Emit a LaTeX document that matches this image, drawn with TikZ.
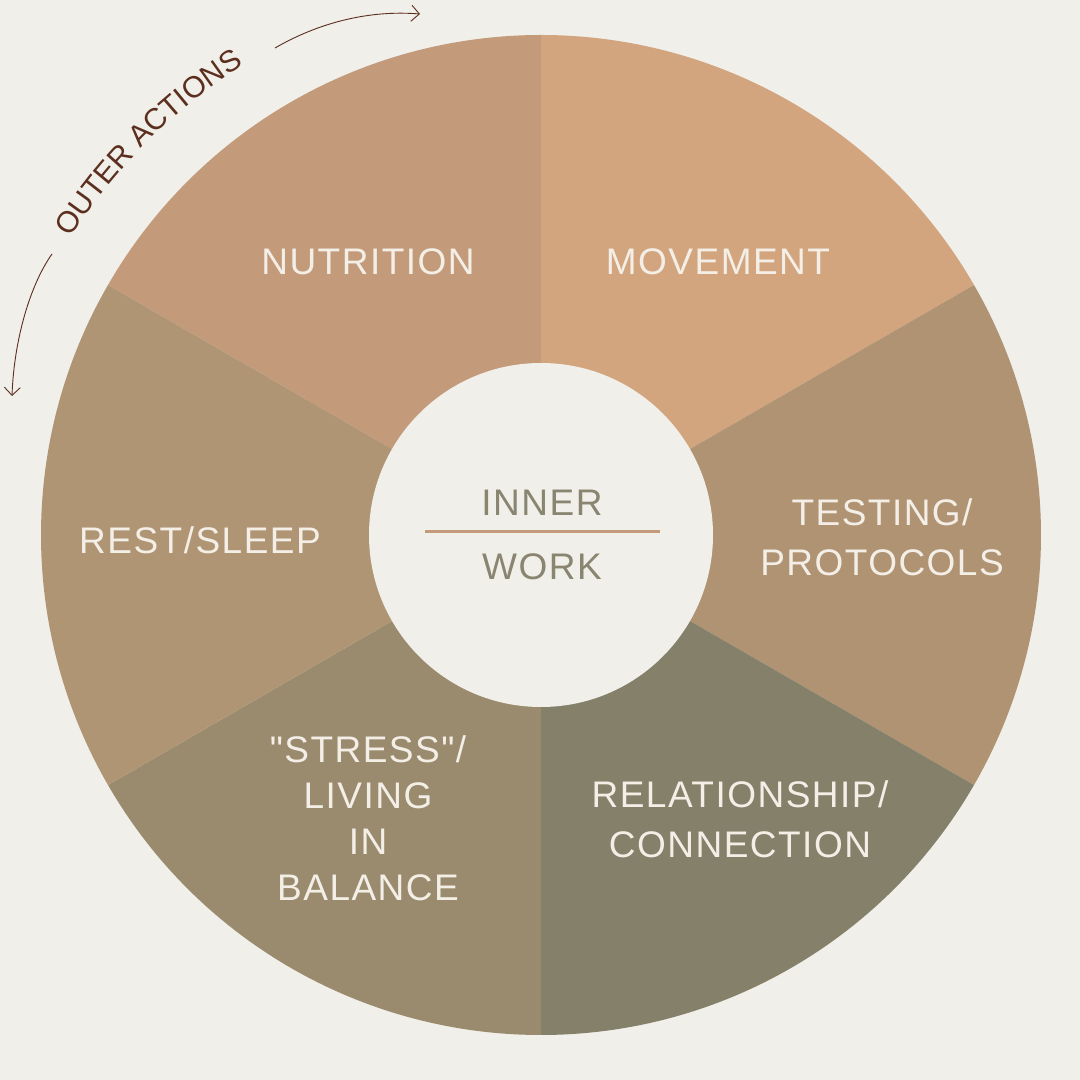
\documentclass[tikz,border=0pt]{standalone}
\usepackage{fontspec}
\setmainfont{Liberation Sans}[Ligatures=TeXOff]
\usetikzlibrary{decorations.text,arrows.meta}
\definecolor{bg}{HTML}{F0EFEA}
\definecolor{cNut}{HTML}{C39B7B}
\definecolor{cMov}{HTML}{D3A57F}
\definecolor{cTest}{HTML}{AF9373}
\definecolor{cRel}{HTML}{85806A}
\definecolor{cStr}{HTML}{9A8B6E}
\definecolor{cRest}{HTML}{B09575}
\definecolor{lbl}{HTML}{F3EEE6}
\definecolor{inner}{HTML}{8A8570}
\definecolor{brown}{HTML}{5C2E1E}
\begin{document}
\begin{tikzpicture}[x=1pt,y=1pt,
  lab/.style={text=lbl,font=\fontsize{37}{50}\selectfont\addfontfeature{LetterSpace=4},align=center},
  inl/.style={text=inner,font=\fontsize{37}{50}\selectfont\addfontfeature{LetterSpace=4}},
  arr/.style={brown,line width=0.9pt,-{Straight Barb[length=8pt]}}]
\fill[bg] (0,0) rectangle (1080,1080);
\useasboundingbox (0,0) rectangle (1080,1080);
\coordinate (c) at (541,545);
\foreach \a/\b/\col in {90/150/cNut,30/90/cMov,-30/30/cTest,-90/-30/cRel,210/270/cStr,150/210/cRest}{
  \fill[\col] (c) -- ++(\a:500) arc[start angle=\a,end angle=\b,radius=500] -- cycle;
}
\fill[bg] (c) circle[radius=172];
\node[lab] (nut) at (368,818) {NUTRITION};
\node[lab] (mov) at (718,818) {MOVEMENT};
\node[lab] (test) at (882,543) {TESTING/\\PROTOCOLS};
\node[lab] (rest) at (200,540) {REST/SLEEP};
\node[lab,font=\fontsize{37}{46}\selectfont\addfontfeature{LetterSpace=4}] (str) at (368,262) {"STRESS"/\\LIVING\\IN\\BALANCE};
\node[lab] (rel) at (740,261) {RELATIONSHIP/\\CONNECTION};
\node[inl] (in) at (542,577) {INNER};
\node[inl] (wk) at (542,513) {WORK};
\draw[cNut,line width=3pt] (425,548) -- (660,548);
\path[decorate,decoration={text along path,text align=center,
  text={|\fontsize{30}{30}\selectfont\color{brown}|OUTER ACTIONS}}]
  (c) ++(149:556) arc[start angle=149,end angle=121,radius=556];
\coordinate (a1) at (275,1032);
\coordinate (a2) at (420,1066);
\coordinate (b1) at (52,826);
\coordinate (b2) at (12,684);
\draw[arr] (a1) .. controls (320,1058) and (370,1070) .. (a2);
\draw[arr] (b1) .. controls (30,795) and (14,740) .. (b2);
\end{tikzpicture}
\end{document}
